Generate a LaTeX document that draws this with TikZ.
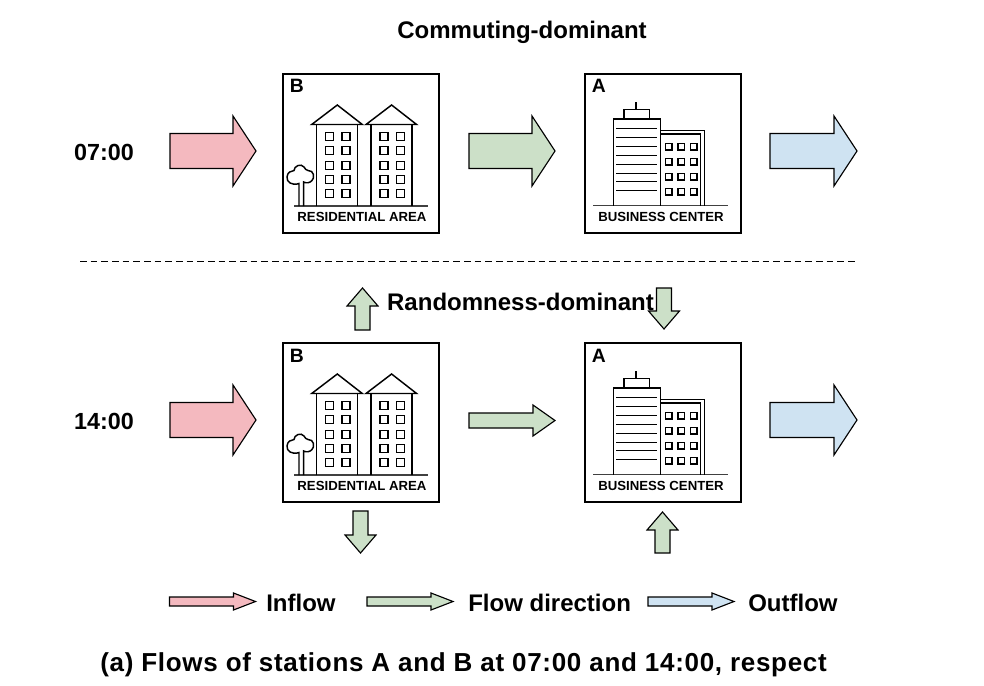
\documentclass[tikz,border=0pt]{standalone}
\usepackage{fontspec}
\setmainfont{Liberation Sans}
\definecolor{pinkf}{HTML}{F4B9BF}
\definecolor{greenf}{HTML}{CCE0C8}
\definecolor{bluef}{HTML}{CFE3F2}
\newcommand{\bfz}[1]{\fontsize{#1}{#1}\selectfont\bfseries}
\tikzset{
  x=0.75pt,y=-0.75pt,
  flow/.style={draw=black,line width=0.85pt,line join=miter},
  thin line/.style={draw=black,line width=1.1pt},
  win/.style={draw=black,line width=1.1pt},
  ground/.style={draw=black!75,line width=1.2pt},
  title/.style={font=\bfz{18},anchor=base,inner sep=0pt},
  time/.style={font=\bfz{17.5},anchor=base,inner sep=0pt},
  legend/.style={font=\bfz{18},anchor=base west,inner sep=0pt},
  caption/.style={font=\bfz{19.5}\addfontfeature{LetterSpace=2.7},anchor=base west,inner sep=0pt},
  boxlabel/.style={font=\bfz{14.5},anchor=base west,inner sep=0pt},
  arealabel/.style={font=\bfz{9.9},anchor=base,inner sep=0pt},
  pics/residential/.style={code={
    \draw[draw=black,fill=white,line width=0.85pt] (0,0) rectangle (156,159);
    \node[boxlabel] at (6.5,19) {B};
    \draw[ground] (11,132) -- (145,132);
    \foreach \bx/\rx in {0/0,54.3/54.3}{
      \draw[thin line] (33.7+\bx,132) -- (33.7+\bx,50.5) -- (74.7+\bx,50.5) -- (74.7+\bx,132);
      \draw[thin line] (28.7+\rx,50.5) -- (54.3+\rx,31) -- (79.3+\rx,50.5) -- cycle;
      \foreach \wy in {58.5,72.5,87.5,101.5,115.5}{
        \draw[win] (42.5+\bx,\wy) rectangle ++(8,8);
        \draw[win] (59+\bx,\wy) rectangle ++(8,8);
      }
    }
    \draw[thin line] (16,132) -- (16,109.5) .. controls (9,112) and (3.5,108) .. (4,103)
      .. controls (4.5,98) and (8,97) .. (11,96.5) .. controls (11,92) and (18,89) .. (21,93)
      .. controls (22,95) and (23,96) .. (25,96.5) .. controls (31,96) and (32,104) .. (29,106.5)
      .. controls (27,109) and (23,109.5) .. (20.7,108) -- (20.7,132);
    \node[arealabel] at (79,147) {RESIDENTIAL AREA};
  }},
  pics/business/.style={code={
    \draw[draw=black,fill=white,line width=0.85pt] (0,0) rectangle (156,159);
    \node[boxlabel] at (6.5,19) {A};
    \draw[ground] (8.3,131.5) -- (142.7,131.5);
    \draw[thin line] (28.3,131.5) -- (28.3,45) -- (75.3,45) -- (75.3,131.5);
    \draw[thin line] (39,45) -- (39,35.7) -- (64.3,35.7) -- (64.3,45);
    \draw[thin line] (51,35.7) -- (51,28.3);
    \foreach \ly in {54.5,63.5,72.5,81.5,90.5,99.5,107.5,116.5}{
      \draw[thin line] (31,\ly) -- (72.3,\ly);
    }
    \draw[thin line] (75.3,56.7) -- (119.3,56.7) -- (119.3,131.5);
    \draw[thin line] (75.3,60) -- (115.7,60) -- (115.7,131.5);
    \foreach \wy in {69.5,84.5,99.5,114.5}{
      \foreach \wx in {80.5,93,105.5}{
        \draw[win] (\wx,\wy) rectangle ++(6.5,6.5);
      }
    }
    \node[arealabel] at (76,147) {BUSINESS CENTER};
  }},
  pics/harrow/.style n args={5}{code={% length, half head, half shaft, head length, colour
    \draw[flow,fill=#5] (0,-#3) -- ({#1-#4},-#3) -- ({#1-#4},-#2) -- (#1,0) -- ({#1-#4},#2) -- ({#1-#4},#3) -- (0,#3) -- cycle;
  }},
  pics/varrow/.style n args={5}{code={% signed length, half head, half shaft, signed head length, colour
    \draw[flow,fill=#5] (-#3,0) -- (-#3,{#1-#4}) -- (-#2,{#1-#4}) -- (0,#1) -- (#2,{#1-#4}) -- (#3,{#1-#4}) -- (#3,0) -- cycle;
  }},
}
\begin{document}
\begin{tikzpicture}
\useasboundingbox (0,0) rectangle (984,685);
% titles
\node[title] (t1) at (522,38.5) {Commuting-dominant};
\node[title] (t2) at (520.5,310) {Randomness-dominant};
\node[time] (h1) at (104,160.5) {07:00};
\node[time] (h2) at (104,429.5) {14:00};
% boxes
\pic at (283,74) {residential};
\pic at (585,74) {business};
\pic at (283,343) {residential};
\pic at (585,343) {business};
% divider
\coordinate (dl) at (80,261);
\coordinate (dr) at (858,261);
\draw[black,line width=0.75pt,dash pattern=on 5pt off 3pt] (dl) -- (dr);
% big arrows, row 1
\pic at (170,151) {harrow={86}{35}{17.5}{23}{pinkf}};
\pic at (469,151) {harrow={86}{35}{17.5}{23}{greenf}};
\pic at (770,151) {harrow={87}{35}{17.5}{23}{bluef}};
% big arrows, row 2
\pic at (170,420) {harrow={86}{35}{17.5}{23}{pinkf}};
\pic at (469,420.5) {harrow={86}{15.5}{7.5}{22}{greenf}};
\pic at (770,420) {harrow={87}{35}{17.5}{23}{bluef}};
% vertical arrows
\pic at (362.5,330) {varrow={-42}{15.5}{7.5}{-18}{greenf}};
\pic at (664,288) {varrow={41}{15.5}{7.5}{18}{greenf}};
\pic at (360.5,511) {varrow={42}{15.5}{7.5}{18}{greenf}};
\pic at (662.5,553) {varrow={-41}{15.5}{7.5}{-18}{greenf}};
% legend
\pic at (169.5,601.5) {harrow={86}{8.5}{4.5}{22}{pinkf}};
\pic at (367,601.5) {harrow={86}{8.5}{4.5}{22}{greenf}};
\pic at (648,601.5) {harrow={86}{8.5}{4.5}{22}{bluef}};
\node[legend] (l1) at (266,611.5) {Inflow};
\node[legend] (l2) at (468,611.5) {Flow direction};
\node[legend] (l3) at (748,611.5) {Outflow};
% caption
\node[caption] (c) at (100,671.5) {(a) Flows of stations A and B at 07:00 and 14:00, respect};
\end{tikzpicture}
\end{document}
